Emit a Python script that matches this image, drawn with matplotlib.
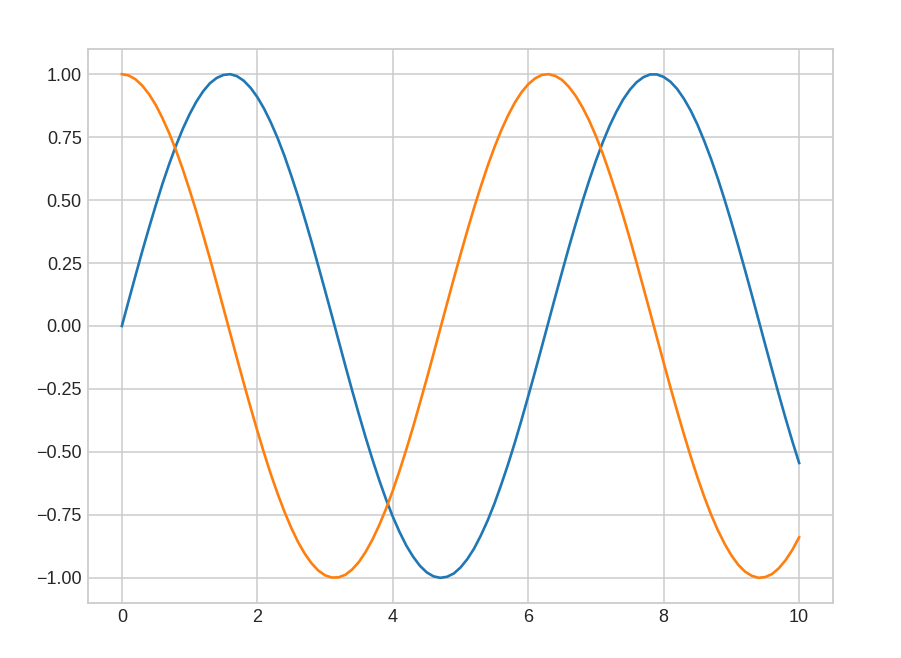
import matplotlib
matplotlib.use("Agg")
import matplotlib.pyplot as plt

# sample positions along x
x = [0.0, 0.1, 0.2, 0.3, 0.4, 0.5, 0.6, 0.7, 0.8, 0.9,
     1.0, 1.1, 1.2, 1.3, 1.4, 1.5, 1.6, 1.7, 1.8, 1.9,
     2.0, 2.1, 2.2, 2.3, 2.4, 2.5, 2.6, 2.7, 2.8, 2.9,
     3.0, 3.1, 3.2, 3.3, 3.4, 3.5, 3.6, 3.7, 3.8, 3.9,
     4.0, 4.1, 4.2, 4.3, 4.4, 4.5, 4.6, 4.7, 4.8, 4.9,
     5.0, 5.1, 5.2, 5.3, 5.4, 5.5, 5.6, 5.7, 5.8, 5.9,
     6.0, 6.1, 6.2, 6.3, 6.4, 6.5, 6.6, 6.7, 6.8, 6.9,
     7.0, 7.1, 7.2, 7.3, 7.4, 7.5, 7.6, 7.7, 7.8, 7.9,
     8.0, 8.1, 8.2, 8.3, 8.4, 8.5, 8.6, 8.7, 8.8, 8.9,
     9.0, 9.1, 9.2, 9.3, 9.4, 9.5, 9.6, 9.7, 9.8, 9.9, 10.0]

blue = [0.000, 0.100, 0.199, 0.296, 0.389, 0.479, 0.565, 0.644, 0.717, 0.783,
        0.841, 0.891, 0.932, 0.964, 0.985, 0.997, 1.000, 0.992, 0.974, 0.946,
        0.909, 0.863, 0.808, 0.746, 0.676, 0.598, 0.516, 0.427, 0.335, 0.239,
        0.141, 0.042, -0.058, -0.158, -0.256, -0.351, -0.443, -0.530, -0.612, -0.688,
        -0.757, -0.818, -0.872, -0.916, -0.952, -0.978, -0.994, -1.000, -0.996, -0.983,
        -0.959, -0.926, -0.884, -0.832, -0.773, -0.706, -0.631, -0.551, -0.465, -0.374,
        -0.279, -0.182, -0.083, 0.017, 0.117, 0.215, 0.312, 0.405, 0.494, 0.578,
        0.657, 0.729, 0.794, 0.850, 0.899, 0.938, 0.968, 0.988, 0.999, 0.999,
        0.989, 0.970, 0.941, 0.902, 0.855, 0.799, 0.734, 0.663, 0.585, 0.501,
        0.412, 0.319, 0.223, 0.125, 0.025, -0.075, -0.174, -0.272, -0.367, -0.458, -0.544]

orange = [1.000, 0.995, 0.980, 0.955, 0.921, 0.878, 0.825, 0.765, 0.697, 0.622,
          0.540, 0.454, 0.362, 0.268, 0.170, 0.071, -0.029, -0.129, -0.227, -0.323,
          -0.416, -0.505, -0.589, -0.666, -0.737, -0.801, -0.857, -0.904, -0.942, -0.971,
          -0.990, -0.999, -0.998, -0.988, -0.967, -0.937, -0.897, -0.848, -0.791, -0.726,
          -0.654, -0.575, -0.490, -0.401, -0.307, -0.211, -0.112, -0.012, 0.088, 0.187,
          0.284, 0.378, 0.469, 0.554, 0.635, 0.709, 0.776, 0.835, 0.886, 0.928,
          0.960, 0.983, 0.997, 1.000, 0.993, 0.977, 0.950, 0.914, 0.869, 0.816,
          0.754, 0.685, 0.608, 0.526, 0.439, 0.347, 0.251, 0.153, 0.054, -0.046,
          -0.146, -0.244, -0.339, -0.431, -0.519, -0.602, -0.679, -0.749, -0.811, -0.865,
          -0.911, -0.948, -0.975, -0.992, -1.000, -0.997, -0.985, -0.962, -0.930, -0.889, -0.839]

x_ticks = [0, 2, 4, 6, 8, 10]
y_ticks = [-1.0, -0.75, -0.5, -0.25, 0.0, 0.25, 0.5, 0.75, 1.0]
y_labels = ['\u22121.00', '\u22120.75', '\u22120.50', '\u22120.25',
            '0.00', '0.25', '0.50', '0.75', '1.00']

plt.rcParams['font.family'] = ['Liberation Sans', 'DejaVu Sans']

fig = plt.figure(figsize=(9.01, 6.58), dpi=100)
ax = fig.add_axes([88 / 901, 1 - 603 / 658, (833 - 88) / 901, (603 - 49) / 658])

ax.plot(x, blue, color='#1f77b4', lw=1.9)
ax.plot(x, orange, color='#ff7f0e', lw=1.9)

ax.set_xticks(x_ticks)
ax.set_yticks(y_ticks)
ax.set_yticklabels(y_labels)
ax.set_xlim(-0.5, 10.5)
ax.set_ylim(-1.1, 1.1)

ax.grid(True, color='#cccccc', lw=1.1)
ax.set_axisbelow(True)
for s in ax.spines.values():
    s.set_color('#cccccc')
    s.set_linewidth(1.3)
ax.tick_params(length=0, colors='#262626', labelsize=13)
ax.tick_params(axis='y', pad=4.5)
ax.tick_params(axis='x', pad=4)

fig.savefig('out.png', dpi=100)
